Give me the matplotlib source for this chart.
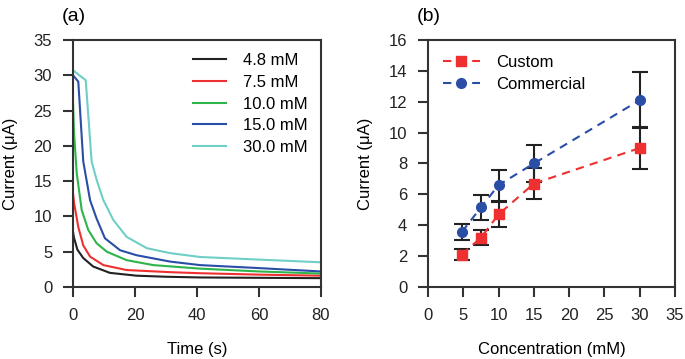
import matplotlib
matplotlib.use('Agg')
import matplotlib.pyplot as plt

plt.rcParams['font.family'] = ['Liberation Sans', 'DejaVu Sans']
plt.rcParams['font.size'] = 12

# Panel (a): chronoamperometry curves
t_48 = [0, 0.3, 1.4, 3.3, 6.5, 11.9, 20.5, 30, 41, 60, 80]
i_48 = [7.8, 7.0, 5.3, 4.1, 2.9, 2.0, 1.6, 1.45, 1.35, 1.3, 1.25]

t_75 = [0, 0.3, 1.7, 3.3, 5.5, 9.8, 17.3, 31.3, 41, 60, 80]
i_75 = [13.3, 12.0, 8.5, 5.9, 4.3, 3.1, 2.4, 2.1, 1.95, 1.75, 1.6]

t_10 = [0, 0.3, 1.2, 2.8, 4.9, 7.6, 10.9, 17.3, 25.9, 41, 60, 80]
i_10 = [26.2, 22.0, 16.1, 10.9, 8.1, 6.2, 5.0, 3.8, 3.1, 2.6, 2.2, 1.9]

t_15 = [0, 1.7, 3.3, 5.5, 7.6, 10.3, 15.2, 20.5, 31.3, 41, 59, 80]
i_15 = [30.0, 29.1, 17.8, 12.3, 9.7, 6.9, 5.2, 4.5, 3.6, 3.1, 2.7, 2.2]

t_30 = [0, 4.1, 6.0, 7.6, 9.8, 13.0, 17.3, 23.8, 31.3, 41, 59, 80]
i_30 = [30.7, 29.3, 17.8, 15.2, 12.3, 9.5, 7.1, 5.5, 4.8, 4.25, 3.9, 3.5]

curve_labels = ['4.8 mM', '7.5 mM', '10.0 mM', '15.0 mM', '30.0 mM']
curve_colors = ['#222222', '#ee3030', '#2fb44c', '#2a4ea6', '#6fcfc6']

# Panel (b): calibration
conc = [4.8, 7.5, 10, 15, 30]
custom = [2.1, 3.2, 4.7, 6.7, 9.0]
custom_err = [0.33, 0.5, 0.8, 1.0, 1.35]
commercial = [3.57, 5.15, 6.6, 8.0, 12.1]
commercial_err = [0.53, 0.8, 1.0, 1.2, 1.8]

fig = plt.figure(figsize=(6.85, 3.59), dpi=100)
ax1 = fig.add_axes([0.1066, 0.2006, 0.362, 0.688])
ax2 = fig.add_axes([0.6248, 0.2006, 0.3606, 0.688])

curves = [(t_48, i_48), (t_75, i_75), (t_10, i_10), (t_15, i_15), (t_30, i_30)]
for (t, i), lab, col in zip(curves, curve_labels, curve_colors):
    ax1.plot(t, i, color=col, lw=1.5, label=lab)

ax1.set_xlim(0, 80)
ax1.set_ylim(0, 35)
ax1.set_xticks([0, 20, 40, 60, 80])
ax1.set_yticks(range(0, 36, 5))
ax1.set_xlabel('Time (s)', labelpad=14)
ax1.set_ylabel('Current (\u03bcA)', labelpad=11)
ax1.legend(loc='upper right', frameon=False, handlelength=2.0, handletextpad=1.0,
           labelspacing=0.4, borderaxespad=0.4)

# error bars first, then dashed lines with markers on top
ax2.errorbar(conc, custom, yerr=custom_err, fmt='none', ecolor='#222222',
             elinewidth=1.5, capsize=6, capthick=1.5, zorder=2)
ax2.errorbar(conc, commercial, yerr=commercial_err, fmt='none', ecolor='#222222',
             elinewidth=1.5, capsize=6, capthick=1.5, zorder=2)
ax2.plot(conc, custom, ls=(0, (4, 3)), color='#ee3030', marker='s', ms=7, lw=1.5,
         label='Custom', zorder=3)
ax2.plot(conc, commercial, ls=(0, (4, 3)), color='#2a4ea6', marker='o', ms=7, lw=1.5,
         label='Commercial', zorder=3)

ax2.set_xlim(0, 35)
ax2.set_ylim(0, 16)
ax2.set_xticks(range(0, 36, 5))
ax2.set_yticks(range(0, 17, 2))
ax2.set_xlabel('Concentration (mM)', labelpad=14)
ax2.set_ylabel('Current (\u03bcA)', labelpad=11)
ax2.legend(loc='upper left', frameon=False, handlelength=2.2, handletextpad=1.0,
           labelspacing=0.4, borderaxespad=0.5)

for ax in (ax1, ax2):
    for sp in ax.spines.values():
        sp.set_color('#333333')
        sp.set_linewidth(1.5)
    ax.tick_params(direction='out', length=7, width=1.5, pad=8, color='#333333',
                   labelcolor='#222222', labelsize=12)

fig.text(0.090, 0.955, '(a)', fontsize=14, va='center')
fig.text(0.608, 0.955, '(b)', fontsize=14, va='center')

fig.savefig('out.png', dpi=100)
